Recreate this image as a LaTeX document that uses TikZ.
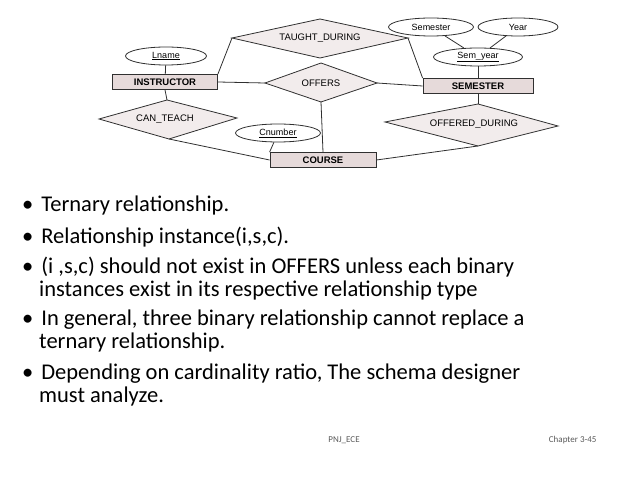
\documentclass[tikz,border=0pt]{standalone}
\usepackage{fontspec}
\setmainfont{Carlito}
\newfontfamily\diag{Liberation Sans}
\usetikzlibrary{shapes.geometric}
\definecolor{fillc}{HTML}{E6DADA}
\definecolor{linec}{HTML}{303030}
\begin{document}
\begin{tikzpicture}[x=1pt,y=-1pt,
  ent/.style={draw=linec,fill=fillc,thick,minimum width=#1,minimum height=15pt,inner sep=0pt,font=\diag\bfseries\fontsize{9.5}{10}\selectfont},
  dia/.style={draw=linec,thick,fill=fillc!50},
  rtxt/.style={inner sep=0pt,font=\diag\fontsize{9.5}{10}\selectfont},
  att/.style={draw=linec,thick,ellipse,inner sep=0pt,minimum height=18pt,minimum width=#1,font=\diag\fontsize{9}{10}\selectfont},
  ln/.style={draw=linec,thick},
  bul/.style={anchor=north west,align=left,font=\fontsize{22.5}{23}\selectfont,inner sep=0pt}]
\useasboundingbox (0,0) rectangle (638,478);
% diamond corners
\coordinate (tdW) at (232,38); \coordinate (tdN) at (320,19); \coordinate (tdE) at (408,38); \coordinate (tdS) at (320,58);
\coordinate (ofW) at (265,83); \coordinate (ofN) at (321,63); \coordinate (ofE) at (377,83); \coordinate (ofS) at (321,102);
\coordinate (ctW) at (99,119); \coordinate (ctN) at (167,100); \coordinate (ctE) at (237,118); \coordinate (ctS) at (169,139);
\coordinate (odW) at (385,122); \coordinate (odN) at (478,104); \coordinate (odE) at (558,126); \coordinate (odS) at (478,146);
\draw[dia] (tdW)--(tdN)--(tdE)--(tdS)--cycle;
\draw[dia] (ofW)--(ofN)--(ofE)--(ofS)--cycle;
\draw[dia] (ctW)--(ctN)--(ctE)--(ctS)--cycle;
\draw[dia] (odW)--(odN)--(odE)--(odS)--cycle;
\node[rtxt] (td) at (320,38) {TAUGHT\_DURING};
\node[rtxt] (of) at (321,83) {OFFERS};
\node[rtxt] (ct) at (165,119) {CAN\_TEACH};
\node[rtxt] (od) at (474,124) {OFFERED\_DURING};
\node[ent=105pt] (ins) at (165,82) {INSTRUCTOR};
\node[ent=110pt] (sem) at (478,86) {SEMESTER};
\node[ent=106pt] (crs) at (323,160) {COURSE};
\node[att=81pt] (ln) at (166,56) {\underline{Lname}};
\node[att=85pt] (se) at (431,27) {Semester};
\node[att=80pt] (yr) at (518,27) {Year};
\node[att=89pt] (sy) at (478,57) {\underline{Sem\_year}};
\node[att=85pt] (cn) at (278,133) {\underline{Cnumber}};
\path[ln] (ln) -- (ins);
\path[ln] (ins.north east) -- (tdW);
\path[ln] (tdE) -- (sem.north west);
\path[ln] (ins.east) -- (ofW);
\path[ln] (ofE) -- (sem.west);
\path[ln] (ofS) -- (crs.north);
\path[ln] (se) -- (sy);
\path[ln] (yr) -- (sy);
\path[ln] (sy) -- (sem);
\path[ln] (ins.south) -- (ctN);
\path[ln] (ctS) -- (crs.west);
\path[ln] (cn) -- (crs.north west);
\path[ln] (sem.south) -- (odN);
\path[ln] (odS) -- (crs.east);
\node[bul] (b1) at (22,196) {\textbullet\hspace{8pt}Ternary relationship.};
\node[bul] (b2) at (22,227) {\textbullet\hspace{8pt}Relationship instance(i,s,c).};
\node[bul] (b3) at (22,257) {\textbullet\hspace{8pt}(i ,s,c) should not exist in OFFERS unless each binary\\\hspace{17pt}instances exist in its respective relationship type};
\node[bul] (b4) at (22,310) {\textbullet\hspace{8pt}In general, three binary relationship cannot replace a\\\hspace{17pt}ternary relationship.};
\node[bul] (b5) at (22,364) {\textbullet\hspace{8pt}Depending on cardinality ratio, The schema designer\\\hspace{17pt}must analyze.};
\node[font=\fontsize{9}{10}\selectfont,text=gray!70!black] (f1) at (344,440) {PNJ\_ECE};
\node[font=\fontsize{9}{10}\selectfont,text=gray!70!black,anchor=east] (f2) at (600,440) {Chapter 3-45};
\end{tikzpicture}
\end{document}
